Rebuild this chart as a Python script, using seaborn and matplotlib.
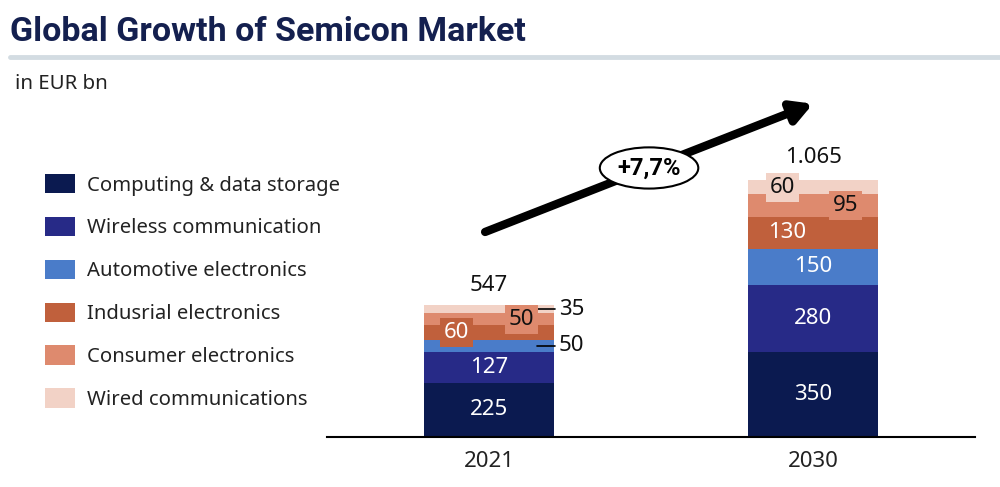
import numpy as np
import pandas as pd
import matplotlib
matplotlib.use("Agg")
import matplotlib.pyplot as plt
from matplotlib.lines import Line2D
from matplotlib.patches import Patch
import seaborn as sns

# ---------------- data ----------------
years = ["2021", "2030"]
categories = ["Computing & data storage", "Wireless communication", "Automotive electronics",
              "Indusrial electronics", "Consumer electronics", "Wired communications"]
computing = [225, 350]
wireless = [127, 280]
automotive = [50, 150]
industrial = [60, 130]
consumer = [50, 95]
wired = [35, 60]
cagr_label = "+7,7%"

colors = ["#0b1a50", "#272a87", "#4a7cc9", "#c0603c", "#de8a6e", "#f2d2c6"]

series = [computing, wireless, automotive, industrial, consumer, wired]
rows = []
for ci, (cat, vals) in enumerate(zip(categories, series)):
    for yi, y in enumerate(years):
        rows.append({"year": y, "category": cat, "value": vals[yi], "order": ci})
df = pd.DataFrame(rows)
df["top"] = df.sort_values("order").groupby("year")["value"].cumsum()
df["bottom"] = df["top"] - df["value"]
df["mid"] = (df["top"] + df["bottom"]) / 2
totals = df.groupby("year")["value"].sum()

# ---------------- figure ----------------
sns.set_theme(style="white")
plt.rcParams["font.family"] = ["Noto Sans", "DejaVu Sans"]

fig = plt.figure(figsize=(10, 4.87), dpi=100)
ax = fig.add_axes([0.327, 0.1027, 0.648, 0.719])

# stacked bars: draw cumulative totals from the top category downward
for ci in reversed(range(len(categories))):
    sub = df[df["category"] == categories[ci]]
    sns.barplot(data=sub, x="year", y="top", order=years, color=colors[ci],
                saturation=1, width=0.4, errorbar=None, ax=ax, linewidth=0)

ax.set_xlim(-0.5, 1.5)
ax.set_ylim(0, 1450)
ax.set_xlabel("")
ax.set_ylabel("")
ax.set_yticks([])
for s in ["left", "right", "top"]:
    ax.spines[s].set_visible(False)
ax.spines["bottom"].set_color("black")
ax.spines["bottom"].set_linewidth(1.5)
ax.tick_params(axis="x", length=0, labelsize=16, pad=10, colors="#222222")

LBL = 16
# segment labels (style per year / category)
label_style = {
    ("2021", 0): dict(dx=0.0, color="white"),
    ("2021", 1): dict(dx=0.0, color="white"),
    ("2021", 2): dict(outside=True),
    ("2021", 3): dict(dx=-0.10, color="white", box=True),
    ("2021", 4): dict(dx=0.10, color="#111111", box=True),
    ("2021", 5): dict(outside=True),
    ("2030", 0): dict(dx=0.0, color="white"),
    ("2030", 1): dict(dx=0.0, color="white"),
    ("2030", 2): dict(dx=0.0, color="white"),
    ("2030", 3): dict(dx=-0.08, color="white"),
    ("2030", 4): dict(dx=0.10, color="#111111", box=True),
    ("2030", 5): dict(dx=-0.095, color="#111111", box=True),
}
for _, r in df.iterrows():
    xi = years.index(r["year"])
    st = label_style[(r["year"], r["order"])]
    txt = f"{r['value']:d}"
    if st.get("outside"):
        ax.plot([xi + 0.147, xi + 0.205], [r["mid"], r["mid"]], color="black", lw=1.2,
                clip_on=False)
        ax.text(xi + 0.215, r["mid"], txt, ha="left", va="center", fontsize=LBL,
                color="#111111")
    else:
        kw = {}
        if st.get("box"):
            kw["bbox"] = dict(boxstyle="square,pad=0.18", fc=colors[r["order"]], ec="none")
        ax.text(xi + st["dx"], r["mid"], txt, ha="center", va="center", fontsize=LBL,
                color=st["color"], **kw)

for xi, y in enumerate(years):
    t = totals[y]
    lab = f"{t:,}".replace(",", ".")
    ax.annotate(lab, xy=(xi, t), xytext=(0, 14 if xi == 0 else 16), textcoords="offset points",
                ha="center", va="center", fontsize=LBL, color="#111111")

# growth arrow
ax.annotate("", xy=(1.0, 1380), xytext=(-0.012, 849),
            arrowprops=dict(arrowstyle="-|>,head_length=0.6,head_width=0.33", lw=6,
                            color="black", mutation_scale=20, shrinkA=0, shrinkB=0),
            annotation_clip=False)
ax.text(0.494, 1114, cagr_label, ha="center", va="center", fontsize=17, fontweight="bold",
        color="black", family=["Roboto", "DejaVu Sans"],
        bbox=dict(boxstyle="ellipse,pad=0.13", fc="white", ec="black", lw=1.5))

# legend
handles = [Patch(facecolor=c, edgecolor="none") for c in colors]
fig.legend(handles, categories, loc="upper left", bbox_to_anchor=(0.045, 1 - 174 / 487),
           frameon=False, borderaxespad=0, borderpad=0, fontsize=14.6,
           handlelength=1.49, handleheight=1.09, handletextpad=0.6, labelspacing=1.05,
           labelcolor="#222222")

# title, rule, subtitle
fig.text(0.01, 1 - 32 / 487, "Global Growth of Semicon Market", ha="left", va="center",
         fontsize=24.5, fontweight="bold", color="#14204f", family=["Roboto", "DejaVu Sans"])
fig.add_artist(Line2D([0.01, 1.0], [1 - 57 / 487, 1 - 57 / 487], color="#d3dce2", lw=3.5))
fig.text(0.015, 1 - 84 / 487, "in EUR bn", ha="left", va="center", fontsize=14.7,
         color="#222222")

fig.savefig("out.png", dpi=100)
